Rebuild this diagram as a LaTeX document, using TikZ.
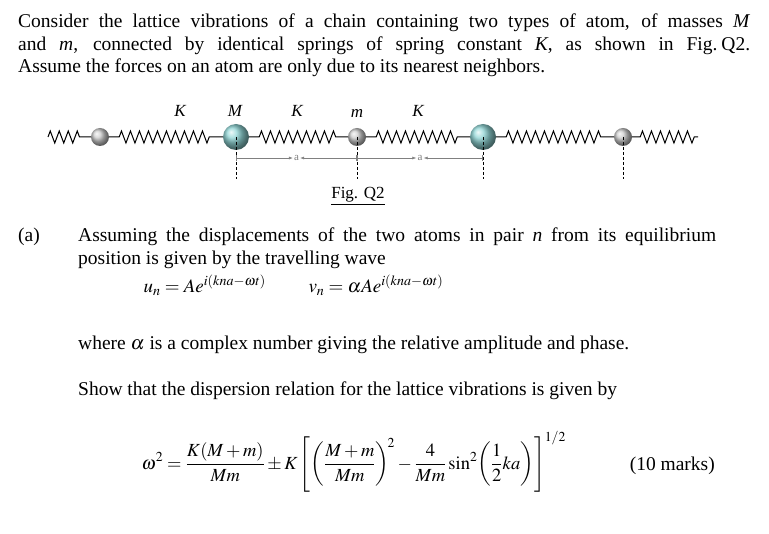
\documentclass[tikz,border=0pt]{standalone}
\usepackage{mathptmx}
\usepackage[no-math]{fontspec}
\setmainfont{Liberation Serif}
\usetikzlibrary{decorations.pathmorphing,arrows.meta,calc}
\begin{document}
\begin{tikzpicture}[x=1pt,y=-1pt,
  txt/.style={anchor=north west,inner sep=0pt,font=\fontsize{19.5}{22.5}\selectfont,align=left},
  lbl/.style={font=\fontsize{17}{18}\selectfont\itshape,inner sep=0pt},
  spring/.style={decorate,decoration={zigzag,segment length=9pt,amplitude=6pt,pre length=10pt,post length=10pt},line width=1pt},
  bigM/.style={circle,minimum size=26pt,inner sep=0pt,ball color=cyan!45!gray!60},
  smallm/.style={circle,minimum size=18pt,inner sep=0pt,ball color=gray!40},
  dline/.style={densely dashed,line width=1pt},
  dim/.style={gray,{Bar[width=6pt]}-{Latex[length=4pt]},line width=0.6pt}]
\useasboundingbox (0,0) rectangle (769,534);
\node[txt] (intro) at (18,14)
{\makebox[732pt][s]{Consider the lattice vibrations of a chain containing two types of atom, of masses \textit{M}}\\
\makebox[732pt][s]{and \textit{m}, connected by identical springs of spring constant \textit{K}, as shown in Fig.\kern4pt Q2.}\\
Assume the forces on an atom are only due to its nearest neighbors.};
% chain
\coordinate (L) at (48,137);
\node[smallm] (b1) at (100,137) {};
\node[bigM] (b2) at (236,137) {};
\node[smallm] (b3) at (357,137) {};
\node[bigM] (b4) at (483,137) {};
\node[smallm] (b5) at (623,137) {};
\coordinate (R) at (698,137);
\draw[spring,decoration={pre length=0pt,post length=8pt}] (L) -- (b1);
\draw[spring] (b1) -- (b2);
\draw[spring] (b2) -- (b3);
\draw[spring] (b3) -- (b4);
\draw[spring] (b4) -- (b5);
\draw[spring,decoration={pre length=8pt,post length=0pt}] (b5) -- (R);
\foreach \n in {b2,b3,b4,b5}{\draw[dline] (\n.center) -- ++(0,42);}
\coordinate (d2) at ($(b2.center)+(0,21)$);
\coordinate (d3) at ($(b3.center)+(0,21)$);
\coordinate (d4) at ($(b4.center)+(0,21)$);
\node[gray,font=\fontsize{11}{11}\selectfont,fill=white,inner sep=1pt] (a1) at ($(d2)!0.5!(d3)$) {a};
\node[gray,font=\fontsize{11}{11}\selectfont,fill=white,inner sep=1pt] (a2) at ($(d3)!0.5!(d4)$) {a};
\draw[dim] (d2) -- (a1.west); \draw[dim] (d3) -- (a1.east);
\draw[dim] (d3) -- (a2.west); \draw[dim] (d4) -- (a2.east);
\node[lbl] (k1) at (180,111) {K};
\node[lbl] (mM) at (235,111) {M};
\node[lbl] (k2) at (297,111) {K};
\node[lbl] (mm) at (357,113) {m};
\node[lbl] (k3) at (418,111) {K};
\node[font=\fontsize{17}{18}\selectfont,inner sep=0pt] (fig) at (358,196) {\underline{Fig. Q2}};
% part a
\node[txt] (pa) at (18,228) {(a)};
\node[txt] (pt) at (78,228) {\makebox[638pt][s]{Assuming the displacements of the two atoms in pair \textit{n} from its equilibrium}\\position is given by the travelling wave};
\node[font=\fontsize{19}{20}\selectfont,anchor=west] (e1) at (140,285) {$u_n = Ae^{i(kna-\omega t)}$};
\node[font=\fontsize{19}{20}\selectfont,anchor=west] (e2) at (305,285) {$v_n = \alpha A e^{i(kna-\omega t)}$};
\node[txt] (w) at (78,336) {where $\alpha$ is a complex number giving the relative amplitude and phase.};
\node[txt] (s) at (78,382) {Show that the dispersion relation for the lattice vibrations is given by};
\node[font=\fontsize{18.5}{20}\selectfont,anchor=west] (eq) at (138,462)
{$\displaystyle \omega^2=\frac{K(M+m)}{Mm}\pm K\left[\left(\frac{M+m}{Mm}\right)^{\!2}-\frac{4}{Mm}\sin^2\!\left(\frac{1}{2}ka\right)\right]^{1/2}$};
\node[txt,anchor=east] (marks) at (715,466) {(10 marks)};
\end{tikzpicture}
\end{document}
